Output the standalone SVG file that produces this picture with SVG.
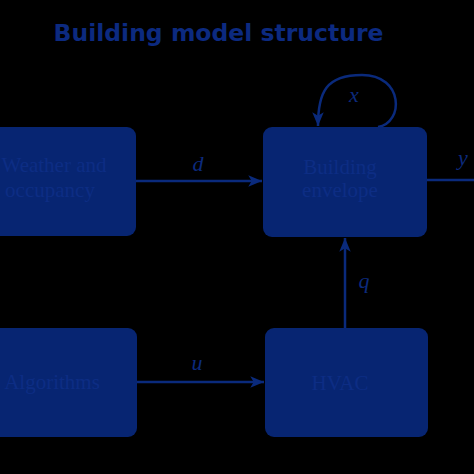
<svg xmlns="http://www.w3.org/2000/svg" width="474" height="474" viewBox="0 0 474 474">
<style>
.box{fill:#072572;}
.bt{font-family:"Liberation Serif",serif;font-size:21px;fill:#0d2d84;text-anchor:middle;}
.lbl{font-family:"Liberation Serif",serif;font-size:22px;font-style:italic;fill:#0c2a7c;text-anchor:middle;}
.ln{stroke:#0a2a7c;stroke-width:2.5;fill:none;}
.title{font-family:"DejaVu Sans",sans-serif;font-weight:bold;font-size:23.5px;fill:#0c2a80;text-anchor:middle;}
</style>
<defs>
<marker id="ah" viewBox="0 0 12 10" refX="12" refY="5" markerWidth="5.5" markerHeight="4.6" orient="auto" markerUnits="strokeWidth">
<path d="M0,0 L12,5 L0,10 L3,5 Z" fill="#0a2a7c"/>
</marker>
</defs>
<rect width="474" height="474" fill="#000"/>
<text class="title" x="218.5" y="41">Building model structure</text>
<g id="connectors">
<line class="ln" x1="136" y1="181" x2="262" y2="181" marker-end="url(#ah)"/>
<line class="ln" x1="427" y1="180" x2="474" y2="180"/>
<path class="ln" d="M378,127 C404,123 404,75 362,75 C326,75 318,92 318,126" marker-end="url(#ah)"/>
<line class="ln" x1="345" y1="328" x2="345" y2="238" marker-end="url(#ah)"/>
<line class="ln" x1="137" y1="382" x2="264" y2="382" marker-end="url(#ah)"/>
<text class="lbl" x="198" y="171">d</text>
<text class="lbl" x="463" y="165">y</text>
<text class="lbl" x="354" y="102">x</text>
<text class="lbl" x="364" y="288">q</text>
<text class="lbl" x="197" y="370">u</text>
</g>
<g id="weather">
<rect class="box" x="-30" y="127" width="166" height="109" rx="9"/>
<text class="bt" x="54" y="172">Weather and</text>
<text class="bt" x="50" y="197">occupancy</text>
</g>
<g id="envelope">
<rect class="box" x="263" y="127" width="164" height="110" rx="9"/>
<text class="bt" x="340" y="174">Building</text>
<text class="bt" x="340" y="197">envelope</text>
</g>
<g id="algorithms">
<rect class="box" x="-30" y="328" width="167" height="109" rx="9"/>
<text class="bt" x="52" y="389">Algorithms</text>
</g>
<g id="hvac">
<rect class="box" x="265" y="328" width="163" height="109" rx="9"/>
<text class="bt" x="340" y="390">HVAC</text>
</g>
</svg>
